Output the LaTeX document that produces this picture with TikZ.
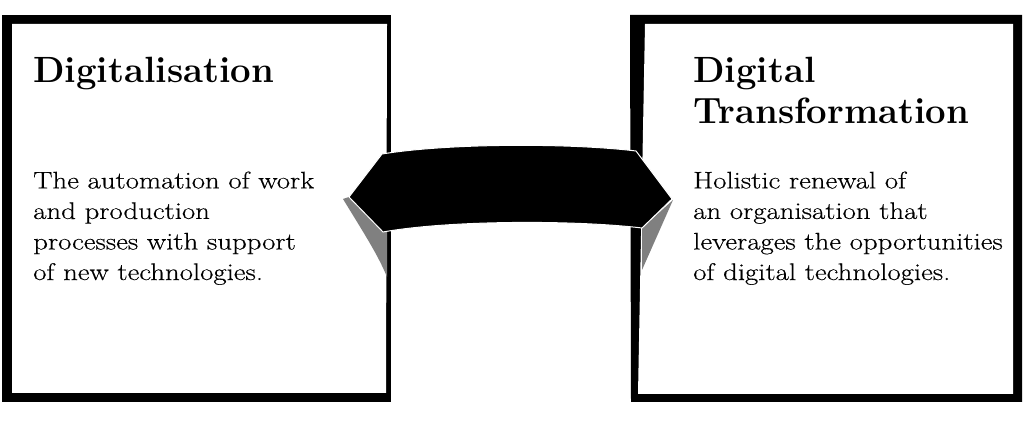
\documentclass[tikz,border=0pt]{standalone}
\usepackage{fontspec}
\newfontfamily\bodyfont{Latin Modern Roman}[FakeStretch=1.2,FakeBold=0.4]
\tikzset{
  boxframe/.style={fill=black},
  boxinside/.style={fill=white},
  shadowfill/.style={fill={rgb, 255:red, 128; green, 128; blue, 128}},
  bandfill/.style={fill=black, draw=white, line width=0.75},
  titletext/.style={anchor=north west, inner sep=0pt, align=left, font=\fontsize{27.4}{30.75}\selectfont\bfseries},
  bodytext/.style={anchor=north west, inner sep=0pt, align=left, font=\bodyfont\fontsize{18}{22.9}\selectfont},
}
\begin{document}
\begin{tikzpicture}[x=0.75pt,y=0.75pt,yscale=-1,xscale=1]
\useasboundingbox (0,0) rectangle (1024,423);

%Left box
\fill [boxframe] (2,15) -- (391,15) -- (391,402) -- (2,402) -- cycle ;
\fill [boxinside] (12,24) -- (387,24) -- (386,393) -- (12,393) -- cycle ;
%Right box
\fill [boxframe] (630,15) -- (1022,15) -- (1022,402) -- (631,402) -- cycle ;
\fill [boxinside] (645,24) -- (1013,24) -- (1013,394) -- (638,394) -- cycle ;

%Shadows
\fill [shadowfill] (343,199) .. controls (365,235) and (378,255) .. (387,277) -- (387,232) -- (383,232) -- (349,197) -- cycle ;
\fill [shadowfill] (673,200) -- (642,270) -- (642,228) -- cycle ;

%Band
\draw [bandfill] (382,154) .. controls (450,143) and (570,143) .. (636,151) -- (672,199) -- (642,228) .. controls (575,220) and (450,220) .. (383,232) -- (349,197) -- cycle ;

% Text Node
\node [titletext] (digi) at (33,56.6) {Digitalisation};
% Text Node
\node [bodytext] (digiText) at (33,171.3) {The automation of work\\and production\\processes with support\\of new technologies.};
% Text Node
\node [titletext] (trans) at (693,56.6) {Digital\\Transformation};
% Text Node
\node [bodytext] (transText) at (693,171.3) {Holistic renewal of\\an organisation that\\leverages the opportunities\\of digital technologies.};

\end{tikzpicture}
\end{document}
